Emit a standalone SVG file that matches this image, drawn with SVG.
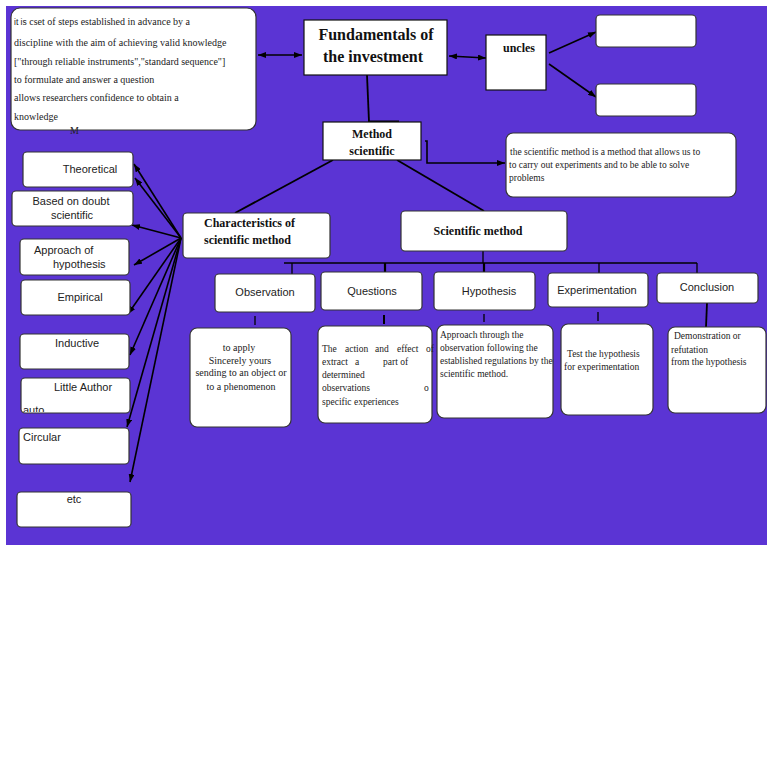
<svg xmlns="http://www.w3.org/2000/svg" width="768" height="762" viewBox="0 0 768 762">
<defs>
<marker id="ah" markerUnits="userSpaceOnUse" markerWidth="8" markerHeight="6" refX="8" refY="3" orient="auto-start-reverse"><path d="M0,0 L8,3 L0,6 z" fill="#000"/></marker>
<clipPath id="clipLA"><rect x="21" y="378" width="109" height="34"/></clipPath>
</defs>
<style>
.bg{fill:#5b34d4}
.rb{fill:#fff;stroke:#333;stroke-width:1.2}
.sb{fill:#fff;stroke:#111;stroke-width:1.2}
.ser{font-family:"Liberation Serif","Times New Roman",serif;fill:#222}
.serb{font-family:"Liberation Serif","Times New Roman",serif;font-weight:bold;fill:#111}
.sans{font-family:"Liberation Sans",Arial,sans-serif;font-size:11px;fill:#222}
.ln{stroke:#000;stroke-width:1.8;fill:none}
.lt{stroke:#000;stroke-width:1.3;fill:none}
.ar{stroke:#000;stroke-width:1.6;fill:none;marker-end:url(#ah)}
.da{stroke:#000;stroke-width:1.6;fill:none;marker-end:url(#ah);marker-start:url(#ah)}
</style>
<rect width="768" height="762" fill="#fff"/>
<rect class="bg" x="6" y="6" width="761" height="539"/>

<g id="connectors">
<line class="da" x1="258" y1="55" x2="302" y2="55"/>
<line class="da" x1="449" y1="56" x2="486" y2="58"/>
<line class="ar" x1="549" y1="53" x2="596" y2="32"/>
<line class="ar" x1="549" y1="64" x2="596" y2="97"/>
<line class="ln" x1="367" y1="75" x2="369" y2="122"/>
<line x1="368" y1="122" x2="399" y2="122" stroke="#000" stroke-width="3"/>
<polyline class="ar" points="425,141 427,141 427,163 505,163"/>
<line class="ln" x1="333" y1="160" x2="235" y2="213"/>
<line class="ln" x1="397" y1="160" x2="484" y2="211"/>
<line class="lt" x1="483" y1="251" x2="483" y2="263"/>
<line class="lt" x1="284" y1="263" x2="697" y2="263"/>
<line class="lt" x1="292" y1="263" x2="292" y2="274"/>
<line x1="385" y1="263" x2="385" y2="273" stroke="#000" stroke-width="2.2"/>
<line x1="484" y1="263" x2="484" y2="272" stroke="#000" stroke-width="2.2"/>
<line class="lt" x1="599" y1="263" x2="599" y2="273"/>
<line class="lt" x1="697" y1="263" x2="697" y2="273"/>
<line class="lt" x1="255" y1="316" x2="255" y2="325"/>
<line x1="384" y1="315" x2="384" y2="324" stroke="#000" stroke-width="2"/>
<line class="lt" x1="484" y1="314" x2="484" y2="322"/>
<line class="lt" x1="598" y1="312" x2="598" y2="321"/>
<line class="ln" x1="707" y1="303" x2="706" y2="327"/>
<line class="ar" x1="181" y1="238" x2="134" y2="164"/>
<line class="ar" x1="181" y1="238" x2="135" y2="178"/>
<line class="ar" x1="181" y1="238" x2="132" y2="225"/>
<line class="ar" x1="181" y1="238" x2="134" y2="265"/>
<line class="ar" x1="181" y1="238" x2="128" y2="314"/>
<line class="ar" x1="181" y1="238" x2="130" y2="355"/>
<line class="ar" x1="181" y1="238" x2="127" y2="427"/>
<line class="ar" x1="181" y1="238" x2="130" y2="482"/>
</g>

<g id="definition">
<rect class="rb" x="11" y="8" width="245" height="122" rx="9"/>
<text class="ser" font-size="10"><tspan x="14" y="25"><tspan font-family="Liberation Sans,Arial,sans-serif" font-size="8.5">it is</tspan> cset of steps established in advance by a</tspan><tspan x="14" y="46">discipline with the aim of achieving valid knowledge</tspan><tspan x="14" y="65">["through reliable instruments","standard sequence"]</tspan><tspan x="14" y="83">to formulate and answer a question</tspan><tspan x="14" y="101">allows researchers confidence to obtain a</tspan><tspan x="14" y="120">knowledge</tspan><tspan x="70" y="134">M</tspan></text>
</g>

<g id="fundamentals">
<rect class="sb" x="304" y="20" width="143" height="55"/>
<text class="serb" font-size="16" text-anchor="middle"><tspan x="376" y="40">Fundamentals of</tspan><tspan x="373" y="62">the investment</tspan></text>
</g>

<g id="uncles">
<rect class="sb" x="486" y="35" width="60" height="55"/>
<text class="serb" font-size="12" x="519" y="52" text-anchor="middle">uncles</text>
</g>

<g id="empty1"><rect class="rb" x="596" y="15" width="100" height="32" rx="4"/></g>
<g id="empty2"><rect class="rb" x="596" y="84" width="100" height="32" rx="4"/></g>

<g id="method-scientific">
<rect class="sb" x="323" y="122" width="98" height="38"/>
<text class="serb" font-size="12" text-anchor="middle"><tspan x="372" y="138">Method</tspan><tspan x="372" y="155">scientific</tspan></text>
</g>

<g id="description">
<rect class="rb" x="506" y="133" width="230" height="64" rx="7"/>
<text class="ser" font-size="9.5"><tspan x="510" y="155"> the scientific method is a method that allows us to</tspan><tspan x="509" y="168">to carry out experiments and to be able to solve</tspan><tspan x="509" y="181">problems</tspan></text>
</g>

<g id="characteristics">
<rect class="rb" x="183" y="213" width="147" height="45" rx="4"/>
<text class="serb" font-size="12"><tspan x="204" y="227">Characteristics of</tspan><tspan x="204" y="244">scientific method</tspan></text>
</g>

<g id="scientific-method">
<rect class="rb" x="401" y="211" width="166" height="40" rx="4"/>
<text class="serb" font-size="12" x="478" y="235" text-anchor="middle">Scientific method</text>
</g>

<g id="observation">
<rect class="rb" x="215" y="274" width="100" height="38" rx="4"/>
<text class="sans" x="265" y="296" text-anchor="middle">Observation</text>
</g>
<g id="questions">
<rect class="rb" x="321" y="272" width="101" height="38" rx="4"/>
<text class="sans" x="372" y="295" text-anchor="middle">Questions</text>
</g>
<g id="hypothesis">
<rect class="rb" x="434" y="272" width="101" height="38" rx="4"/>
<text class="sans" x="489" y="295" text-anchor="middle">Hypothesis</text>
</g>
<g id="experimentation">
<rect class="rb" x="548" y="273" width="100" height="34" rx="4"/>
<text class="sans" x="597" y="294" text-anchor="middle">Experimentation</text>
</g>
<g id="conclusion">
<rect class="rb" x="657" y="273" width="101" height="30" rx="4"/>
<text class="sans" x="707" y="291" text-anchor="middle">Conclusion</text>
</g>

<g id="observation-detail">
<rect class="rb" x="190" y="328" width="101" height="99" rx="7"/>
<text class="ser" font-size="10" text-anchor="middle"><tspan x="239" y="351">to apply</tspan><tspan x="240" y="364">Sincerely yours</tspan><tspan x="241" y="376">sending to an object or</tspan><tspan x="241" y="390">to a phenomenon</tspan></text>
</g>

<g id="questions-detail">
<rect class="rb" x="318" y="326" width="114" height="97" rx="7"/>
<text class="ser" font-size="9.5"><tspan x="322" y="352">The</tspan><tspan x="345" y="352">action</tspan><tspan x="375" y="352">and</tspan><tspan x="397" y="352">effect</tspan><tspan x="426" y="352">of</tspan><tspan x="322" y="365">extract</tspan><tspan x="355" y="365">a</tspan><tspan x="383" y="365">part of</tspan><tspan x="322" y="378">determined</tspan><tspan x="322" y="391">observations</tspan><tspan x="424" y="391">o</tspan><tspan x="322" y="405">specific experiences</tspan></text>
</g>

<g id="hypothesis-detail">
<rect class="rb" x="437" y="325" width="116" height="93" rx="7"/>
<text class="ser" font-size="9.5"><tspan x="440" y="338">Approach through the</tspan><tspan x="440" y="351">observation following the</tspan><tspan x="440" y="364">established regulations by the</tspan><tspan x="440" y="377">scientific method.</tspan></text>
</g>

<g id="experimentation-detail">
<rect class="rb" x="561" y="324" width="92" height="91" rx="7"/>
<text class="ser" font-size="9.5"><tspan x="567" y="357">Test the hypothesis</tspan><tspan x="564" y="370">for experimentation</tspan></text>
</g>

<g id="conclusion-detail">
<rect class="rb" x="668" y="327" width="98" height="86" rx="7"/>
<text class="ser" font-size="9.5"><tspan x="674" y="339">Demonstration or</tspan><tspan x="671" y="353">refutation</tspan><tspan x="671" y="365">from the hypothesis</tspan></text>
</g>

<g id="theoretical">
<rect class="rb" x="23" y="152" width="110" height="35" rx="4"/>
<text class="sans" x="90" y="173" text-anchor="middle">Theoretical</text>
</g>
<g id="doubt">
<rect class="rb" x="12" y="191" width="121" height="35" rx="4"/>
<text class="sans" text-anchor="middle"><tspan x="71" y="205">Based on doubt</tspan><tspan x="72" y="219">scientific</tspan></text>
</g>
<g id="approach">
<rect class="rb" x="20" y="239" width="109" height="36" rx="4"/>
<text class="sans"><tspan x="34" y="254">Approach of</tspan><tspan x="53" y="268">hypothesis</tspan></text>
</g>
<g id="empirical">
<rect class="rb" x="21" y="280" width="109" height="35" rx="4"/>
<text class="sans" x="80" y="301" text-anchor="middle">Empirical</text>
</g>
<g id="inductive">
<rect class="rb" x="20" y="334" width="109" height="35" rx="4"/>
<text class="sans" x="77" y="347" text-anchor="middle">Inductive</text>
</g>
<g id="little-author">
<rect class="rb" x="21" y="378" width="109" height="35" rx="4"/>
<text class="sans" x="83" y="391" text-anchor="middle">Little Author</text>
<text class="sans" font-size="9" x="23" y="414" clip-path="url(#clipLA)">auto</text>
</g>
<g id="circular">
<rect class="rb" x="19" y="428" width="110" height="36" rx="4"/>
<text class="sans" x="23" y="441">Circular</text>
</g>
<g id="etc">
<rect class="rb" x="17" y="492" width="114" height="35" rx="4"/>
<text class="sans" x="74" y="503" text-anchor="middle">etc</text>
</g>
</svg>
